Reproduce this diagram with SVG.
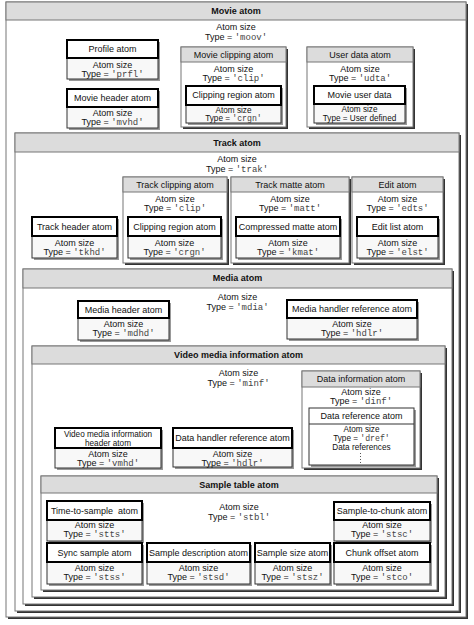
<svg xmlns="http://www.w3.org/2000/svg" width="474" height="625" viewBox="0 0 474 625">
<style>
.ct{fill:#fff;stroke:#777;stroke-width:1}
.ch{fill:#dcdcdc;stroke:#777;stroke-width:1}
.sh{fill:#333}
.sl{fill:#999}
.hd{fill:#fff;stroke:#000;stroke-width:2}
.bd{fill:#f8f8f8;stroke:#333;stroke-width:1}
.tb{fill:#fff;stroke:#333;stroke-width:1}
text{font-family:"Liberation Sans",Arial,sans-serif;font-size:9px;fill:#111;text-anchor:middle}
.b{font-weight:bold}
.s{font-size:8.2px}
.m{font-family:"Liberation Mono","Courier New",monospace;fill:#444}
</style>
<rect width="474" height="625" fill="#fff"/>

<g id="movie-atom">
<rect class="sh" x="8" y="4" width="460" height="615"/>
<rect class="ct" x="6" y="2" width="460" height="615"/>
<rect class="ch" x="6" y="2" width="460" height="18"/>
<text class="b" x="236" y="14">Movie atom</text>
<text x="236" y="30">Atom size</text>
<text x="236" y="40">Type = <tspan class="m">'moov'</tspan></text>
</g>

<g id="profile-atom">
<rect class="sl" x="69" y="42" width="91" height="39"/>
<rect class="bd" x="67" y="58" width="91" height="21"/>
<rect class="hd" x="67" y="40" width="91" height="18"/>
<text x="112.5" y="52">Profile atom</text>
<text x="112.5" y="68">Atom size</text>
<text x="112.5" y="77">Type = <tspan class="m">'prfl'</tspan></text>
</g>

<g id="movie-header-atom">
<rect class="sl" x="69" y="91" width="91" height="39"/>
<rect class="bd" x="67" y="107" width="91" height="21"/>
<rect class="hd" x="67" y="89" width="91" height="18"/>
<text x="112.5" y="101">Movie header atom</text>
<text x="112.5" y="116">Atom size</text>
<text x="112.5" y="125">Type = <tspan class="m">'mvhd'</tspan></text>
</g>

<g id="movie-clipping-atom">
<rect class="sh" x="183" y="49" width="105" height="80"/>
<rect class="ct" x="181" y="47" width="105" height="80"/>
<rect class="ch" x="181" y="47" width="105" height="15"/>
<text x="233.5" y="58">Movie clipping atom</text>
<text x="233.5" y="72">Atom size</text>
<text x="233.5" y="81">Type = <tspan class="m">'clip'</tspan></text>
</g>

<g id="movie-clipping-region-atom">
<rect class="sl" x="188" y="88" width="95" height="37"/>
<rect class="bd" x="186" y="105" width="95" height="18"/>
<rect class="hd" x="186" y="86" width="95" height="19"/>
<text x="233.5" y="98">Clipping region atom</text>
<text class="s" x="233.5" y="112.5">Atom size</text>
<text class="s" x="233.5" y="121">Type = <tspan class="m">'crgn'</tspan></text>
</g>

<g id="user-data-atom">
<rect class="sh" x="309" y="49" width="106" height="80"/>
<rect class="ct" x="307" y="47" width="106" height="80"/>
<rect class="ch" x="307" y="47" width="106" height="15"/>
<text x="360" y="58">User data atom</text>
<text x="360" y="71.5">Atom size</text>
<text x="360" y="81">Type = <tspan class="m">'udta'</tspan></text>
</g>

<g id="movie-user-data">
<rect class="sl" x="316" y="88" width="91" height="37"/>
<rect class="bd" x="314" y="104" width="91" height="19"/>
<rect class="hd" x="314" y="86" width="91" height="18"/>
<text x="359.5" y="98">Movie user data</text>
<text class="s" x="359.5" y="112">Atom size</text>
<text class="s" x="359.5" y="120.5">Type = User defined</text>
</g>

<g id="track-atom">
<rect class="sh" x="17" y="135" width="444" height="478"/>
<rect class="ct" x="15" y="133" width="444" height="478"/>
<rect class="ch" x="15" y="133" width="444" height="19"/>
<text class="b" x="237" y="146">Track atom</text>
<text x="237" y="162">Atom size</text>
<text x="237" y="172">Type = <tspan class="m">'trak'</tspan></text>
</g>

<g id="track-header-atom">
<rect class="sl" x="34" y="219" width="85" height="41"/>
<rect class="bd" x="32" y="236" width="85" height="22"/>
<rect class="hd" x="32" y="217" width="85" height="19"/>
<text x="74.5" y="230">Track header atom</text>
<text x="74.5" y="246">Atom size</text>
<text x="74.5" y="255">Type = <tspan class="m">'tkhd'</tspan></text>
</g>

<g id="track-clipping-atom">
<rect class="sh" x="125" y="179" width="104" height="86"/>
<rect class="ct" x="123" y="177" width="104" height="86"/>
<rect class="ch" x="123" y="177" width="104" height="15"/>
<text x="175" y="188">Track clipping atom</text>
<text x="175" y="202">Atom size</text>
<text x="175" y="211">Type = <tspan class="m">'clip'</tspan></text>
</g>

<g id="track-clipping-region-atom">
<rect class="sl" x="130" y="219" width="93" height="41"/>
<rect class="bd" x="128" y="236" width="93" height="22"/>
<rect class="hd" x="128" y="217" width="93" height="19"/>
<text x="174.5" y="230">Clipping region atom</text>
<text x="174.5" y="246">Atom size</text>
<text x="174.5" y="255">Type = <tspan class="m">'crgn'</tspan></text>
</g>

<g id="track-matte-atom">
<rect class="sh" x="233" y="179" width="118" height="86"/>
<rect class="ct" x="231" y="177" width="118" height="86"/>
<rect class="ch" x="231" y="177" width="118" height="15"/>
<text x="290" y="188">Track matte atom</text>
<text x="290" y="202">Atom size</text>
<text x="290" y="211">Type = <tspan class="m">'matt'</tspan></text>
</g>

<g id="compressed-matte-atom">
<rect class="sl" x="238" y="219" width="104" height="41"/>
<rect class="bd" x="236" y="236" width="104" height="22"/>
<rect class="hd" x="236" y="217" width="104" height="19"/>
<text x="288" y="230">Compressed matte atom</text>
<text x="288" y="246">Atom size</text>
<text x="288" y="255">Type = <tspan class="m">'kmat'</tspan></text>
</g>

<g id="edit-atom">
<rect class="sh" x="354" y="179" width="91" height="86"/>
<rect class="ct" x="352" y="177" width="91" height="86"/>
<rect class="ch" x="352" y="177" width="91" height="15"/>
<text x="397.5" y="188">Edit atom</text>
<text x="397.5" y="202">Atom size</text>
<text x="397.5" y="211">Type = <tspan class="m">'edts'</tspan></text>
</g>

<g id="edit-list-atom">
<rect class="sl" x="359" y="219" width="81" height="41"/>
<rect class="bd" x="357" y="236" width="81" height="22"/>
<rect class="hd" x="357" y="217" width="81" height="19"/>
<text x="397.5" y="230">Edit list atom</text>
<text x="397.5" y="246">Atom size</text>
<text x="397.5" y="255">Type = <tspan class="m">'elst'</tspan></text>
</g>

<g id="media-atom">
<rect class="sh" x="25" y="271" width="429" height="335"/>
<rect class="ct" x="23" y="269" width="429" height="335"/>
<rect class="ch" x="23" y="269" width="429" height="19"/>
<text class="b" x="237.5" y="281">Media atom</text>
<text x="237.5" y="300">Atom size</text>
<text x="237.5" y="310">Type = <tspan class="m">'mdia'</tspan></text>
</g>

<g id="media-header-atom">
<rect class="sl" x="80" y="303" width="91" height="39"/>
<rect class="bd" x="78" y="318" width="91" height="22"/>
<rect class="hd" x="78" y="301" width="91" height="17"/>
<text x="123.5" y="313">Media header atom</text>
<text x="123.5" y="327">Atom size</text>
<text x="123.5" y="336">Type = <tspan class="m">'mdhd'</tspan></text>
</g>

<g id="media-handler-reference-atom">
<rect class="sl" x="289" y="302" width="130" height="39"/>
<rect class="bd" x="287" y="318" width="130" height="21"/>
<rect class="hd" x="287" y="300" width="130" height="18"/>
<text x="352" y="312">Media handler reference atom</text>
<text x="352" y="327">Atom size</text>
<text x="352" y="336">Type = <tspan class="m">'hdlr'</tspan></text>
</g>

<g id="video-media-information-atom">
<rect class="sh" x="34" y="348" width="413" height="251"/>
<rect class="ct" x="32" y="346" width="413" height="251"/>
<rect class="ch" x="32" y="346" width="413" height="18"/>
<text class="b" x="238.5" y="358">Video media information atom</text>
<text x="238.5" y="376">Atom size</text>
<text x="238.5" y="386">Type = <tspan class="m">'minf'</tspan></text>
</g>

<g id="video-media-information-header-atom">
<rect class="sl" x="57" y="430" width="106" height="40"/>
<rect class="bd" x="55" y="448" width="106" height="20"/>
<rect class="hd" x="55" y="428" width="106" height="20"/>
<text class="s" x="108" y="437">Video media information</text>
<text class="s" x="108" y="445.5">header atom</text>
<text x="108" y="457">Atom size</text>
<text x="108" y="466">Type = <tspan class="m">'vmhd'</tspan></text>
</g>

<g id="data-handler-reference-atom">
<rect class="sl" x="175" y="430" width="119" height="39"/>
<rect class="bd" x="173" y="448" width="119" height="19"/>
<rect class="hd" x="173" y="428" width="119" height="20"/>
<text x="232.5" y="441">Data handler reference atom</text>
<text x="232.5" y="457">Atom size</text>
<text x="232.5" y="466">Type = <tspan class="m">'hdlr'</tspan></text>
</g>

<g id="data-information-atom">
<rect class="sh" x="304" y="373" width="118" height="97"/>
<rect class="ct" x="302" y="371" width="118" height="97"/>
<rect class="ch" x="302" y="371" width="118" height="16"/>
<text x="361" y="382">Data information atom</text>
<text x="361" y="395">Atom size</text>
<text x="361" y="404">Type = <tspan class="m">'dinf'</tspan></text>
</g>

<g id="data-reference-atom">
<rect class="sl" x="311" y="410" width="105" height="57"/>
<rect class="tb" x="309" y="408" width="105" height="57"/>
<line x1="309" y1="424" x2="414" y2="424" stroke="#333" stroke-width="1"/>
<text x="361.5" y="419">Data reference atom</text>
<text class="s" x="361.5" y="432">Atom size</text>
<text class="s" x="361.5" y="440.5">Type = <tspan class="m">'dref'</tspan></text>
<text class="s" x="361.5" y="449.5">Data references</text>
<line x1="360.5" y1="453" x2="360.5" y2="463" stroke="#555" stroke-width="1" stroke-dasharray="1,2"/>
</g>

<g id="sample-table-atom">
<rect class="sh" x="43" y="478" width="396" height="114"/>
<rect class="ct" x="41" y="476" width="396" height="114"/>
<rect class="ch" x="41" y="476" width="396" height="17"/>
<text class="b" x="239" y="488">Sample table atom</text>
<text x="239" y="510">Atom size</text>
<text x="239" y="520">Type = <tspan class="m">'stbl'</tspan></text>
</g>

<g id="time-to-sample-atom">
<rect class="sl" x="49" y="503" width="95" height="40"/>
<rect class="bd" x="47" y="520" width="95" height="21"/>
<rect class="hd" x="47" y="501" width="95" height="19"/>
<text x="94.5" y="514" xml:space="preserve">Time-to-sample  atom</text>
<text x="94.5" y="528">Atom size</text>
<text x="94.5" y="537">Type = <tspan class="m">'stts'</tspan></text>
</g>

<g id="sync-sample-atom">
<rect class="sl" x="49" y="545" width="95" height="41"/>
<rect class="bd" x="47" y="562" width="95" height="22"/>
<rect class="hd" x="47" y="543" width="95" height="19"/>
<text x="94.5" y="556">Sync sample atom</text>
<text x="94.5" y="571">Atom size</text>
<text x="94.5" y="580">Type = <tspan class="m">'stss'</tspan></text>
</g>

<g id="sample-description-atom">
<rect class="sl" x="149" y="545" width="103" height="41"/>
<rect class="bd" x="147" y="562" width="103" height="22"/>
<rect class="hd" x="147" y="543" width="103" height="19"/>
<text x="198.5" y="556">Sample description atom</text>
<text x="198.5" y="571">Atom size</text>
<text x="198.5" y="580">Type = <tspan class="m">'stsd'</tspan></text>
</g>

<g id="sample-size-atom">
<rect class="sl" x="257" y="545" width="75" height="41"/>
<rect class="bd" x="255" y="562" width="75" height="22"/>
<rect class="hd" x="255" y="543" width="75" height="19"/>
<text x="292.5" y="556">Sample size atom</text>
<text x="292.5" y="571">Atom size</text>
<text x="292.5" y="580">Type = <tspan class="m">'stsz'</tspan></text>
</g>

<g id="sample-to-chunk-atom">
<rect class="sl" x="336" y="504" width="96" height="39"/>
<rect class="bd" x="334" y="520" width="96" height="21"/>
<rect class="hd" x="334" y="502" width="96" height="18"/>
<text x="382" y="514">Sample-to-chunk atom</text>
<text x="382" y="528">Atom size</text>
<text x="382" y="537">Type = <tspan class="m">'stsc'</tspan></text>
</g>

<g id="chunk-offset-atom">
<rect class="sl" x="336" y="545" width="96" height="41"/>
<rect class="bd" x="334" y="562" width="96" height="22"/>
<rect class="hd" x="334" y="543" width="96" height="19"/>
<text x="382" y="556">Chunk offset atom</text>
<text x="382" y="571">Atom size</text>
<text x="382" y="580">Type = <tspan class="m">'stco'</tspan></text>
</g>
</svg>
